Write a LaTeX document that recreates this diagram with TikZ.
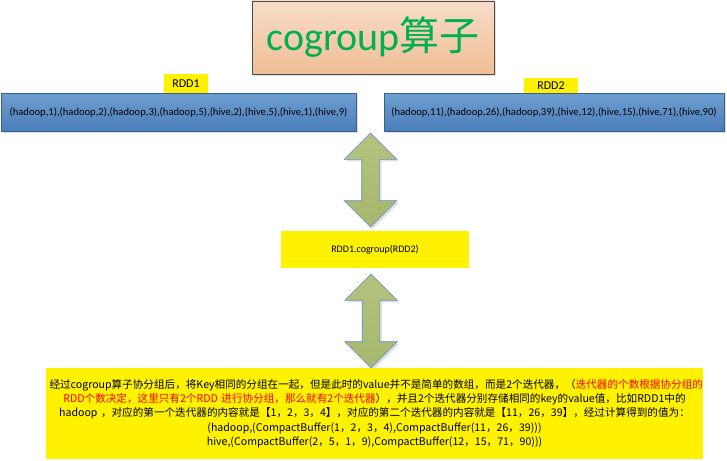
\documentclass[tikz,border=0pt]{standalone}
\usepackage{fontspec}
\setmainfont{Carlito}
\newfontfamily\cjk{Noto Sans CJK SC}
\usepackage{xcolor}
\usetikzlibrary{shapes.arrows,shadows}

\definecolor{titlegreen}{HTML}{00B050}
\definecolor{peachtop}{HTML}{F7DCC8}
\definecolor{peachbot}{HTML}{F0BE96}
\definecolor{bluetop}{HTML}{6E9FD0}
\definecolor{bluebot}{HTML}{4A7EBB}
\definecolor{blueline}{HTML}{3A5F8A}
\definecolor{olivetop}{HTML}{B4C27F}
\definecolor{olivebot}{HTML}{A6B86C}
\definecolor{arrowline}{HTML}{5B8FD0}

\tikzset{
	softshadow/.style={drop shadow={opacity=0.25,shadow xshift=2pt,shadow yshift=-2pt}},
	titlebox/.style={draw=black!70,line width=0.8pt,top color=peachtop,bottom color=peachbot,
		softshadow,minimum width=242pt,minimum height=73pt,inner sep=0pt},
	rddbox/.style={draw=blueline,line width=0.8pt,top color=bluetop,bottom color=bluebot,
		softshadow,minimum height=38pt,inner sep=0pt,font=\fontsize{10.6}{12}\selectfont},
	tagbox/.style={fill=yellow,inner sep=0pt,font=\fontsize{12}{12}\selectfont},
	notebox/.style={fill=yellow,inner sep=0pt},
	dblarrow/.style={double arrow,shape border rotate=90,draw=arrowline,line width=0.6pt,
		top color=olivetop,bottom color=olivebot,softshadow,minimum height=94pt,
		minimum width=52pt,double arrow head extend=17.5pt,inner sep=8.5pt}
}

\begin{document}
\begin{tikzpicture}[x=1pt,y=-1pt]
	\useasboundingbox (0,0) rectangle (727,460);
	
	% title
	\node[titlebox] (title) at (373,37.5)
		{\fontsize{40}{40}\selectfont\color{titlegreen}cogroup{\cjk 算子}};
	
	% the two rdds
	\node[rddbox,minimum width=355pt] (rddA) at (178.5,112)
		{(hadoop,1),(hadoop,2),(hadoop,3),(hadoop,5),(hive,2),(hive,5),(hive,1),(hive,9)};
	\node[rddbox,minimum width=340pt] (rddB) at (554,112)
		{(hadoop,11),(hadoop,26),(hadoop,39),(hive,12),(hive,15),(hive,71),(hive,90)};
	\node[tagbox,minimum width=44pt,minimum height=19pt] (tagA) at (186,83.5) {RDD1};
	\node[tagbox,minimum width=54pt,minimum height=15pt] (tagB) at (551,85.5) {RDD2};
	
	% operation
	\node[notebox,minimum width=188pt,minimum height=37pt,font=\fontsize{10}{12}\selectfont]
		(op) at (375,249.5) {RDD1.cogroup(RDD2)};
	
	% block arrows
	\node[dblarrow] (arrUp) at (370.5,180) {};
	\node[dblarrow] (arrDown) at (371,321) {};
	
	% explanation
	\node[notebox,minimum width=657pt,minimum height=91pt,text width=650pt,align=center,
		font=\cjk\fontsize{10.6}{14.3}\selectfont] (note) at (374.5,413.5)
		{经过cogroup算子协分组后，将Key相同的分组在一起，但是此时的value并不是简单的数组，而是2个迭代器，（\textcolor{red}{迭代器的个数根据协分组的}\\
		\textcolor{red}{RDD个数决定，这里只有2个RDD 进行协分组，那么就有2个迭代器}），并且2个迭代器分别存储相同的key的value值，比如RDD1中的\\
		hadoop ，对应的第一个迭代器的内容就是【1，2，3，4】，对应的第二个迭代器的内容就是【11，26，39】，经过计算得到的值为：\\
		(hadoop,(CompactBuffer(1，2，3，4),CompactBuffer(11，26，39)))\\
		hive,(CompactBuffer(2，5，1，9),CompactBuffer(12，15，71，90)))};
\end{tikzpicture}
\end{document}
